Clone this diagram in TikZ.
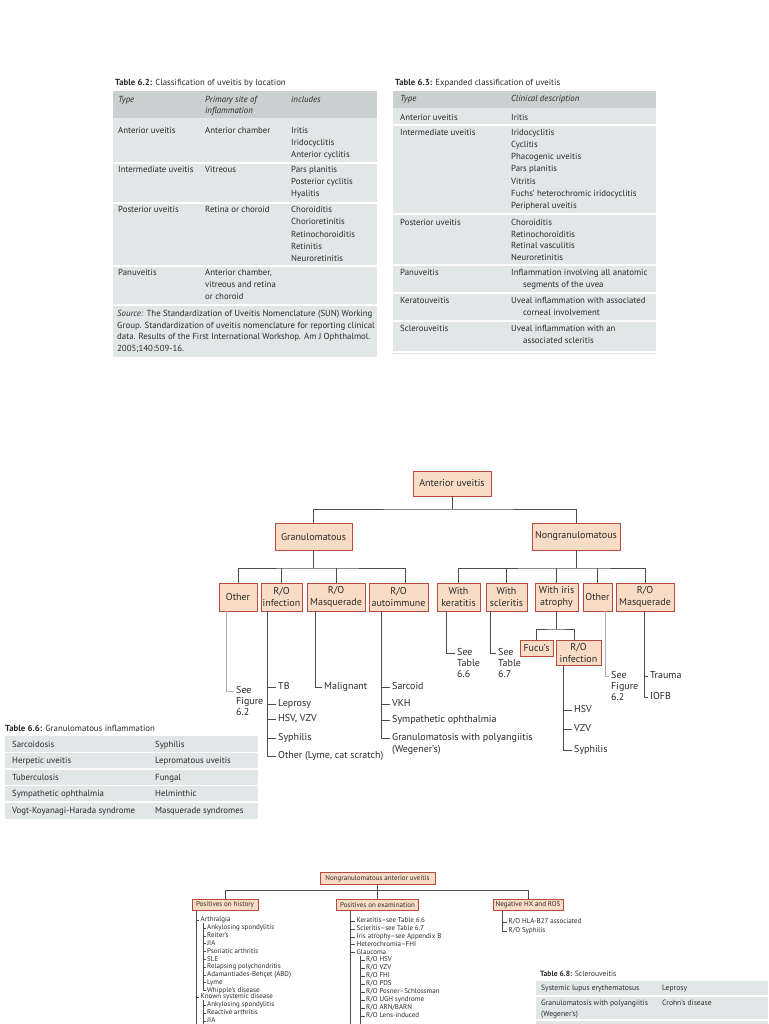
\documentclass[tikz,border=0pt]{standalone}
\usepackage{fontspec}
\setmainfont{PT Sans}
\usepackage{tikz}
\usetikzlibrary{calc}
\definecolor{HeadGray}{HTML}{CACFCF}
\definecolor{RowGray}{HTML}{E1E7E7}
\definecolor{Ink}{HTML}{2A2A2A}
\definecolor{Peach}{HTML}{F9DCC6}
\definecolor{BoxRed}{HTML}{BC4A3C}
\definecolor{Wire}{HTML}{4C4C4C}
\newcommand{\tabfont}{\fontsize{8.8}{10}\selectfont}
\newcommand{\smalltabfont}{\fontsize{7.6}{9}\selectfont}
\newcommand{\treefont}{\fontsize{10}{12.5}\selectfont}
\newcommand{\twigfont}{\fontsize{7}{8}\selectfont}
\tikzset{
  capt/.style={anchor=base west,inner sep=0pt,font=\tabfont,text=Ink},
  cell/.style={anchor=base west,inner sep=0pt,font=\tabfont,text=Ink},
  headcell/.style={cell,font=\tabfont\itshape},
  smallcell/.style={cell,font=\smalltabfont},
  rowrule/.style={draw=white,line width=1.3pt},
  tbox/.style={draw=BoxRed,fill=Peach,line width=0.9pt,align=center,font=\treefont,
               text=Ink,inner sep=1pt,minimum height=28pt},
  sbox/.style={draw=BoxRed,fill=Peach,line width=0.6pt,font=\twigfont,text=Ink,
               inner sep=1pt,minimum height=11pt},
  wire/.style={draw=Wire,line width=0.9pt},
  faintwire/.style={draw=Wire!45,line width=0.9pt},
  thinwire/.style={draw=Wire,line width=0.5pt},
  leaf/.style={anchor=west,inner xsep=2pt,inner ysep=0pt,font=\treefont,text=Ink,
               text height=7pt,text depth=1.8pt},
  twig/.style={anchor=west,inner xsep=1.5pt,inner ysep=0pt,font=\twigfont,text=Ink,
               text height=5pt,text depth=1.3pt}
}

\begin{document}
\begin{tikzpicture}[x=1pt,y=-1pt]
  \useasboundingbox[fill=white] (0,0) rectangle (768,1024);

  % Table 6.2
  \node[capt] (cap62) at (115,86) {\textbf{Table 6.2:} Classification of uveitis by location};
  \fill[HeadGray] (113,91) rectangle (377,118);
  \fill[RowGray] (113,118) rectangle (377,357);
  \foreach \y in {163,203,266,305} \draw[rowrule] (113,\y) -- (377,\y);
  \node[headcell] (t62h1) at (118,103) {Type};
  \node[headcell] (t62h2) at (205,103) {Primary site of};
  \node[headcell] (t62h3) at (205,114) {inflammation};
  \node[headcell] (t62h4) at (291,103) {includes};
  \node[cell] (t62a) at (118,133.5) {Anterior uveitis};
  \node[cell] (t62a0) at (205,133.5) {Anterior chamber};
  \foreach \t [count=\i] in {Iritis,Iridocyclitis,Anterior cyclitis}
    \node[cell] (t62a\i) at (291,121.5+12*\i) {\t};
  \node[cell] (t62b) at (118,173) {Intermediate uveitis};
  \node[cell] (t62b0) at (205,173) {Vitreous};
  \foreach \t [count=\i] in {Pars planitis,Posterior cyclitis,Hyalitis}
    \node[cell] (t62b\i) at (291,161+12*\i) {\t};
  \node[cell] (t62c) at (118,213) {Posterior uveitis};
  \node[cell] (t62c0) at (205,213) {Retina or choroid};
  \foreach \t [count=\i] in {Choroiditis,Chorioretinitis,Retinochoroiditis,Retinitis,Neuroretinitis}
    \node[cell] (t62c\i) at (291,201+12*\i) {\t};
  \node[cell] (t62d) at (118,275.5) {Panuveitis};
  \foreach \t [count=\i] in {{Anterior chamber,},vitreous and retina,or choroid}
    \node[cell] (t62d\i) at (205,263.5+12*\i) {\t};
  \node[cell] (t62s1) at (117,316.5) {\textit{Source:} The Standardization of Uveitis Nomenclature (SUN) Working};
  \node[cell] (t62s2) at (117,328) {Group. Standardization of uveitis nomenclature for reporting clinical};
  \node[cell] (t62s3) at (117,339.5) {data. Results of the First International Workshop. Am J Ophthalmol.};
  \node[cell] (t62s4) at (117,351) {2005;140:509-16.};

  % Table 6.3
  \node[capt] (cap63) at (395,86) {\textbf{Table 6.3:} Expanded classification of uveitis};
  \fill[HeadGray] (393,91) rectangle (656,108);
  \fill[RowGray] (393,108) rectangle (656,351);
  \fill[RowGray] (393,352.5) rectangle (656,354);
  \foreach \y in {125,214,265,293,321} \draw[rowrule] (393,\y) -- (656,\y);
  \node[headcell] (t63h1) at (400,102) {Type};
  \node[headcell] (t63h2) at (511,102) {Clinical description};
  \node[cell] (t63a) at (400,120.7) {Anterior uveitis};
  \node[cell] (t63a0) at (511,120.7) {Iritis};
  \node[cell] (t63b) at (400,135.7) {Intermediate uveitis};
  \foreach \t [count=\i] in {Iridocyclitis,Cyclitis,Phacogenic uveitis,Pars planitis,Vitritis,Fuchs' heterochromic iridocyclitis,Peripheral uveitis}
    \node[cell] (t63b\i) at (511,123.6+12.1*\i) {\t};
  \node[cell] (t63c) at (400,225.7) {Posterior uveitis};
  \foreach \t [count=\i] in {Choroiditis,Retinochoroiditis,Retinal vasculitis,Neuroretinitis}
    \node[cell] (t63c\i) at (511,214.2+11.5*\i) {\t};
  \node[cell] (t63d) at (400,275.7) {Panuveitis};
  \node[cell] (t63d1) at (511,275.7) {Inflammation involving all anatomic};
  \node[cell] (t63d2) at (523,287.7) {segments of the uvea};
  \node[cell] (t63e) at (400,303.7) {Keratouveitis};
  \node[cell] (t63e1) at (511,303.7) {Uveal inflammation with associated};
  \node[cell] (t63e2) at (523,315.7) {corneal involvement};
  \node[cell] (t63f) at (400,331.7) {Sclerouveitis};
  \node[cell] (t63f1) at (511,331.7) {Uveal inflammation with an};
  \node[cell] (t63f2) at (523,343.7) {associated scleritis};

  % anterior uveitis tree
  \node[tbox,minimum width=78pt,minimum height=25pt] (au) at (452,483.5) {Anterior uveitis};
  \node[tbox,minimum width=77pt,minimum height=27pt] (gran) at (313.5,536.5) {Granulomatous};
  \node[tbox,minimum width=88pt,minimum height=27pt] (ngran) at (576,536.5) {Nongranulomatous};
  \coordinate (j0) at (452,509);
  \draw[wire] (au.south) -- (j0);
  \draw[wire] (gran.north) |- (j0) -| (ngran.north);

  \node[tbox,minimum width=38pt] (goth) at (238,597) {Other};
  \node[tbox,minimum width=41pt] (ginf) at (281.5,597) {R/O\\infection};
  \node[tbox,minimum width=58pt] (gmas) at (336,597) {R/O\\Masquerade};
  \node[tbox,minimum width=59pt] (gaut) at (398.5,597) {R/O\\autoimmune};
  \coordinate (j1) at (313.5,568);
  \draw[wire] (gran.south) -- (j1);
  \draw[wire] (goth.north) |- (j1) -| ([xshift=7]gaut.north);
  \draw[wire] (ginf.north) -- (ginf.north |- j1);
  \draw[wire] (gmas.north) -- (gmas.north |- j1);

  \node[tbox,minimum width=43pt] (nker) at (458.5,597) {With\\keratitis};
  \node[tbox,minimum width=41pt] (nscl) at (506.5,597) {With\\scleritis};
  \node[tbox,minimum width=43pt] (nira) at (556.5,597) {With iris\\atrophy};
  \node[tbox,minimum width=29pt] (noth) at (597.5,597) {Other};
  \node[tbox,minimum width=58pt] (nmas) at (645,597) {R/O\\Masquerade};
  \coordinate (j2) at (576,568);
  \draw[wire] (ngran.south) -- (j2);
  \draw[wire] (nker.north) |- (j2) -| (nmas.north);
  \foreach \n in {nscl,nira,noth} \draw[wire] (\n.north) -- (\n.north |- j2);

  \node[tbox,minimum width=33pt,minimum height=16pt,anchor=north] (fucus) at (536.5,640) {Fucu's};
  \node[tbox,minimum width=45pt,minimum height=25pt,anchor=north] (rinf) at (578.5,640) {R/O\\infection};
  \coordinate (j3) at (556.5,629);
  \draw[wire] (nira.south) -- (j3);
  \draw[wire] (fucus.north) |- (j3) -| ([xshift=-4]rinf.north);

  % granulomatous leaves
  \node[leaf] (gsee) at (234,691) {See};
  \node[leaf] (gfig) at (234,702) {Figure};
  \node[leaf] (gnum) at (234,713) {6.2};
  \draw[faintwire] ([xshift=-12]goth.south) |- (gsee.west);

  \node[leaf] (gtb) at (276,687) {TB};
  \node[leaf] (glep) at (276,704) {Leprosy};
  \node[leaf] (ghzv) at (276,719) {HSV, VZV};
  \node[leaf] (gsyp) at (276,738) {Syphilis};
  \node[leaf] (glym) at (276,756) {Other (Lyme, cat scratch)};
  \coordinate (ginfT) at ([xshift=-14.5]ginf.south);
  \draw[wire] (ginfT) |- (glym.west);
  \foreach \n in {gtb,glep,ghzv,gsyp} \draw[wire] (\n.west -| ginfT) -- (\n.west);

  \node[leaf] (gmal) at (322,687) {Malignant};
  \draw[wire] ([xshift=-21]gmas.south) |- (gmal.west);

  \node[leaf] (gsar) at (390,687) {Sarcoid};
  \node[leaf] (gvkh) at (390,704) {VKH};
  \node[leaf] (gsym) at (390,720) {Sympathetic ophthalmia};
  \node[leaf] (ggpa) at (390,738) {Granulomatosis with polyangiitis};
  \node[leaf] (gweg) at (390,750) {(Wegener's)};
  \coordinate (gautT) at ([xshift=-17.5]gaut.south);
  \draw[wire] (gautT) |- (ggpa.west);
  \foreach \n in {gsar,gvkh,gsym} \draw[wire] (\n.west -| gautT) -- (\n.west);

  % nongranulomatous leaves
  \node[leaf] (nsee1) at (455,653) {See};
  \node[leaf] (ntab1) at (455,664) {Table};
  \node[leaf] (nnum1) at (455,675) {6.6};
  \draw[wire] ([xshift=-12.5]nker.south) |- (nsee1.west);

  \node[leaf] (nsee2) at (496,653) {See};
  \node[leaf] (ntab2) at (496,664) {Table};
  \node[leaf] (nnum2) at (496,675) {6.7};
  \draw[wire] ([xshift=-16.5]nscl.south) |- (nsee2.west);

  \node[leaf] (rhsv) at (572,710) {HSV};
  \node[leaf] (rvzv) at (572,729) {VZV};
  \node[leaf] (rsyp) at (572,750) {Syphilis};
  \coordinate (rinfT) at ([xshift=-15.5]rinf.south);
  \draw[wire] (rinfT) |- (rsyp.west);
  \foreach \n in {rhsv,rvzv} \draw[wire] (\n.west -| rinfT) -- (\n.west);

  \node[leaf] (nsee3) at (609,676) {See};
  \node[leaf] (nfig3) at (609,687) {Figure};
  \node[leaf] (nnum3) at (609,698) {6.2};
  \draw[faintwire] ([xshift=7.5]noth.south) |- (nsee3.west);

  \node[leaf] (ntra) at (648,676) {Trauma};
  \node[leaf] (niofb) at (648,697) {IOFB};
  \coordinate (nmasT) at ([xshift=-1]nmas.south);
  \draw[wire] (nmasT) |- (niofb.west);
  \draw[wire] (ntra.west -| nmasT) -- (ntra.west);

  % Table 6.6
  \node[capt] (cap66) at (5,731.5) {\textbf{Table 6.6:} Granulomatous inflammation};
  \fill[RowGray] (5,736) rectangle (258,818.5);
  \foreach \y in {752.5,769,785.5,802} \draw[rowrule] (5,\y) -- (258,\y);
  \foreach \a/\b [count=\i from 0] in {Sarcoidosis/Syphilis,Herpetic uveitis/Lepromatous uveitis,Tuberculosis/Fungal,Sympathetic ophthalmia/Helminthic,Vogt-Koyanagi-Harada syndrome/Masquerade syndromes}{
    \node[cell] (t66a\i) at (12,747.2+16.5*\i) {\a};
    \node[cell] (t66b\i) at (155,747.2+16.5*\i) {\b};
  }

  % nongranulomatous anterior uveitis chart
  \node[sbox,minimum width=115pt,minimum height=12pt] (ngau) at (377.5,878.5) {Nongranulomatous anterior uveitis};
  \node[sbox,minimum width=66pt] (phx) at (225,905) {Positives on history};
  \node[sbox,minimum width=82pt] (pex) at (377.5,905) {Positives on examination};
  \node[sbox,minimum width=70pt] (nhx) at (528,905) {Negative HX and ROS};
  \coordinate (k0) at (377.5,890);
  \draw[thinwire] (ngau.south) -- (pex.north);
  \draw[thinwire] (phx.north) |- (k0) -| (nhx.north);

  \coordinate (hxend) at (196,1026);
  \node[twig] (arth) at (199,920) {Arthralgia};
  \foreach \t [count=\i from 0] in {Ankylosing spondylitis,Reiter's,JIA,Psoriatic arthritis,SLE,Relapsing polychondritis,Adamantiades-Behçet (ABD),Lyme,Whipple's disease}
    \node[twig] (art\i) at (205.5,928+7.8*\i) {\t};
  \node[twig] (ksd) at (199,997) {Known systemic disease};
  \foreach \t [count=\i from 0] in {Ankylosing spondylitis,Reactive arthritis,JIA}
    \node[twig] (ksd\i) at (205.5,1005+8*\i) {\t};
  \draw[thinwire] (phx.south -| hxend) -- (hxend);
  \foreach \n in {arth,ksd} \draw[thinwire] (\n.west -| hxend) -- (\n.west);
  \coordinate (sub1) at (203,923);
  \draw[thinwire] (sub1) |- (art8.west);
  \foreach \i in {0,...,7} \draw[thinwire] (art\i.west -| sub1) -- (art\i.west);
  \coordinate (sub2) at (203,1000);
  \coordinate (sub2end) at (203,1026);
  \draw[thinwire] (sub2) -- (sub2end);
  \foreach \i in {0,1,2} \draw[thinwire] (ksd\i.west -| sub2) -- (ksd\i.west);

  \coordinate (exend) at (350,1026);
  \foreach \t/\n [count=\i from 0] in {Keratitis--see Table 6.6/ker,Scleritis--see Table 6.7/scl,Iris atrophy--see Appendix B/iri,Heterochromia--FHI/het,Glaucoma/gla}
    \node[twig] (\n) at (355,921+7.9*\i) {\t};
  \foreach \t [count=\i from 0] in {R/O HSV,R/O VZV,R/O FHI,R/O PDS,R/O Posner--Schlossman,R/O UGH syndrome,R/O ARN/BARN,R/O Lens-induced}
    \node[twig] (gl\i) at (364.5,960+8*\i) {\t};
  \draw[thinwire] (pex.south -| exend) -- (exend);
  \foreach \n in {ker,scl,iri,het,gla} \draw[thinwire] (\n.west -| exend) -- (\n.west);
  \coordinate (sub3) at (360,955.5);
  \coordinate (sub3end) at (360,1026);
  \draw[thinwire] (sub3) -- (sub3end);
  \foreach \i in {0,...,7} \draw[thinwire] (gl\i.west -| sub3) -- (gl\i.west);

  \node[twig] (hla) at (507,922) {R/O HLA-B27 associated};
  \node[twig] (nsyp) at (507,931) {R/O Syphilis};
  \coordinate (nhxT) at ([xshift=-26]nhx.south);
  \draw[thinwire] (nhxT) |- (nsyp.west);
  \draw[thinwire] (hla.west -| nhxT) -- (hla.west);

  % Table 6.8
  \node[capt,font=\smalltabfont] (cap68) at (540,976.5) {\textbf{Table 6.8:} Sclerouveitis};
  \fill[RowGray] (536,981) rectangle (768,1024);
  \foreach \y in {996,1020} \draw[rowrule] (536,\y) -- (768,\y);
  \node[smallcell] (t68a) at (541,990.5) {Systemic lupus erythematosus};
  \node[smallcell] (t68b) at (662,990.5) {Leprosy};
  \node[smallcell] (t68c) at (541,1005.5) {Granulomatosis with polyangiitis};
  \node[smallcell] (t68d) at (541,1016) {(Wegener's)};
  \node[smallcell] (t68e) at (662,1005.5) {Crohn's disease};
\end{tikzpicture}
\end{document}
